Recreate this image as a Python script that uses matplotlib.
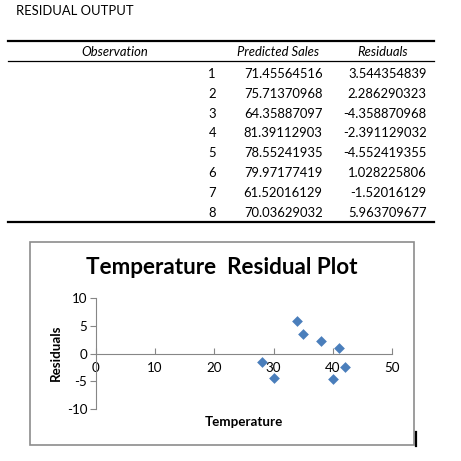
import matplotlib
matplotlib.use("Agg")
import matplotlib.pyplot as plt
from matplotlib.lines import Line2D
from matplotlib.patches import Rectangle

# данные
observations = [1, 2, 3, 4, 5, 6, 7, 8]
predicted = ["71.45564516", "75.71370968", "64.35887097", "81.39112903",
             "78.55241935", "79.97177419", "61.52016129", "70.03629032"]
residuals = ["3.544354839", "2.286290323", "-4.358870968", "-2.391129032",
             "-4.552419355", "1.028225806", "-1.52016129", "5.963709677"]
temperature = [35, 38, 30, 42, 40, 41, 28, 34]
resid_vals = [float(r) for r in residuals]

W = H = 461
fig = plt.figure(figsize=(W / 100, H / 100), dpi=100)
plt.rcParams['font.family'] = ['Lato', 'DejaVu Sans']
plt.rcParams['axes.unicode_minus'] = False


def fx(px):
    return px / W


def fy(py):
    return 1 - py / H


def hline(x0, x1, y, lw, color='black'):
    fig.add_artist(Line2D([fx(x0), fx(x1)], [fy(y), fy(y)], lw=lw, color=color,
                          transform=fig.transFigure))


# таблица
fs = 9.4
fig.text(fx(16), fy(11), "RESIDUAL OUTPUT", fontsize=fs, va='center', ha='left')
hline(8, 434, 41.5, 1.6)
hline(8, 434, 61.5, 0.9)
hline(8, 434, 222.5, 1.6)
fig.text(fx(115), fy(52), "Observation", fontsize=fs, style='italic', ha='center', va='center')
fig.text(fx(278), fy(52), "Predicted Sales", fontsize=fs, style='italic', ha='center', va='center')
fig.text(fx(383), fy(52), "Residuals", fontsize=fs, style='italic', ha='center', va='center')
for i in range(len(observations)):
    y = 74 + i * 19.8
    fig.text(fx(216), fy(y), str(observations[i]), fontsize=fs, ha='right', va='center')
    fig.text(fx(322.5), fy(y), predicted[i], fontsize=fs, ha='right', va='center')
    fig.text(fx(426.5), fy(y), residuals[i], fontsize=fs, ha='right', va='center')

# рамка диаграммы
fig.add_artist(Rectangle((fx(29.5), fy(445)), fx(414 - 29.5), (445 - 242.5) / H,
                         fill=False, edgecolor='#8c8c8c', lw=1.2, transform=fig.transFigure))
fig.add_artist(Line2D([fx(415.5), fx(415.5)], [fy(432), fy(446)], lw=1.6, color='black',
                      transform=fig.transFigure))
fig.text(fx(221.5), fy(267.5), "Temperature  Residual Plot", fontsize=16.2, fontweight='bold',
         ha='center', va='center')

# график остатков
x0, x1 = 95.7, 392.3
y0, y1 = 409, 298.3
ax = fig.add_axes([fx(x0), fy(y0), fx(x1 - x0), (y0 - y1) / H])
ax.scatter(temperature, resid_vals, marker='D', s=30, color='#4a7ebb', zorder=3, linewidths=0)
ax.set_xlim(0, 50)
ax.set_ylim(-10, 10)
ax.set_xticks([0, 10, 20, 30, 40, 50])
ax.set_yticks([-10, -5, 0, 5, 10])
for s in ['top', 'right']:
    ax.spines[s].set_visible(False)
ax.spines['bottom'].set_position(('data', 0))
ax.spines['bottom'].set_color('#868686')
ax.spines['left'].set_color('#868686')
ax.tick_params(axis='x', direction='in', length=4, color='#868686', labelsize=9.6, pad=6)
ax.tick_params(axis='y', direction='out', length=4, color='#868686', labelsize=9.6, pad=2)
ax.patch.set_alpha(0)
fig.text(fx(56), fy(353), "Residuals", fontsize=9.6, fontweight='bold', rotation=90,
         ha='center', va='center')
fig.text(fx(243.5), fy(421.5), "Temperature", fontsize=9.6, fontweight='bold',
         ha='center', va='center')

fig.savefig("out.png", dpi=100)
